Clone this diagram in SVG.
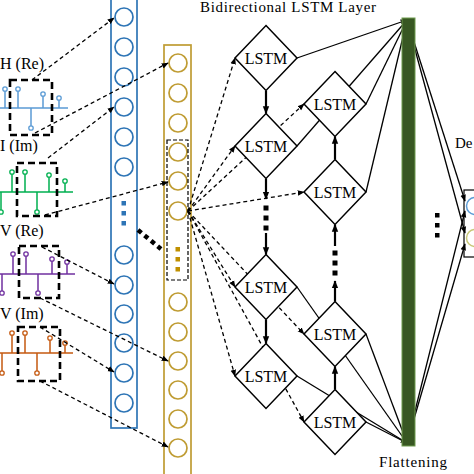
<svg xmlns="http://www.w3.org/2000/svg" width="474" height="474" viewBox="0 0 474 474">
<defs>
<marker id="ah" viewBox="0 0 10 10" refX="9" refY="5" markerWidth="7" markerHeight="7" markerUnits="userSpaceOnUse" orient="auto"><path d="M0,1 L10,5 L0,9 z" fill="#000"/></marker>
<marker id="ahb" viewBox="0 0 10 10" refX="9" refY="5" markerWidth="8" markerHeight="8" markerUnits="userSpaceOnUse" orient="auto"><path d="M0,1 L10,5 L0,9 z" fill="#000"/></marker>
</defs>
<style>
.dash{fill:none;stroke:#000;stroke-width:1.3;stroke-dasharray:4 3}
.sol{fill:none;stroke:#000;stroke-width:1.3}
.thick{fill:none;stroke:#000;stroke-width:2.2}
.dia{fill:#fff;stroke:#000;stroke-width:1.5}
.lbl{font-family:"Liberation Serif","DejaVu Serif",serif;font-size:16px;fill:#000}
.dl{font-family:"Liberation Serif","DejaVu Serif",serif;font-size:16px;fill:#000;text-anchor:middle}
.box{fill:none;stroke:#000;stroke-width:2.6;stroke-dasharray:7 4}
.bc{fill:none;stroke:#2e75b6;stroke-width:1.7}
.gc{fill:none;stroke:#bf9c33;stroke-width:1.7}
.sq{stroke:none}
</style>

<!-- signals -->
<g id="sig-h-re">
<text class="lbl" x="0" y="69">H (Re)</text>
<path d="M0,108 H68 M5,108 V89 M18,108 V89 M43,108 V94 M59,108 V98 M31,108 V128" fill="none" stroke="#5b9bd5" stroke-width="1.5"/>
<g fill="#fff" stroke="#5b9bd5" stroke-width="1.3"><circle cx="5" cy="89" r="2.2"/><circle cx="18" cy="89" r="2.2"/><circle cx="43" cy="94" r="2.2"/><circle cx="59" cy="98" r="2.2"/><circle cx="31" cy="128" r="2.2"/></g>
<rect class="box" x="10" y="80" width="42" height="55"/>
</g>
<g id="sig-i-im">
<text class="lbl" x="0" y="151">I (Im)</text>
<path d="M0,192 H73 M12,192 V172 M25,192 V172 M49,192 V175 M65,192 V181 M1,192 V212 M37,192 V212" fill="none" stroke="#00b050" stroke-width="1.5"/>
<g fill="#fff" stroke="#00b050" stroke-width="1.3"><circle cx="12" cy="172" r="2.2"/><circle cx="25" cy="172" r="2.2"/><circle cx="49" cy="175" r="2.2"/><circle cx="65" cy="181" r="2.2"/><circle cx="1" cy="212" r="2.2"/><circle cx="37" cy="212" r="2.2"/></g>
<rect class="box" x="17" y="163" width="40" height="53"/>
</g>
<g id="sig-v-re">
<text class="lbl" x="0" y="236">V (Re)</text>
<path d="M0,274 H75 M13,274 V254 M26,274 V254 M52,274 V259 M67,274 V262 M2,274 V293 M38,274 V293" fill="none" stroke="#7030a0" stroke-width="1.5"/>
<g fill="#fff" stroke="#7030a0" stroke-width="1.3"><circle cx="13" cy="254" r="2.2"/><circle cx="26" cy="254" r="2.2"/><circle cx="52" cy="259" r="2.2"/><circle cx="67" cy="262" r="2.2"/><circle cx="2" cy="293" r="2.2"/><circle cx="38" cy="293" r="2.2"/></g>
<rect class="box" x="19" y="246" width="40" height="52"/>
</g>
<g id="sig-v-im">
<text class="lbl" x="0" y="319">V (Im)</text>
<path d="M0,353 H73 M12,353 V333 M25,353 V333 M50,353 V338 M65,353 V343 M2,353 V373 M37,353 V373" fill="none" stroke="#c55a11" stroke-width="1.5"/>
<g fill="#fff" stroke="#c55a11" stroke-width="1.3"><circle cx="12" cy="333" r="2.2"/><circle cx="25" cy="333" r="2.2"/><circle cx="50" cy="338" r="2.2"/><circle cx="65" cy="343" r="2.2"/><circle cx="2" cy="373" r="2.2"/><circle cx="37" cy="373" r="2.2"/></g>
<rect class="box" x="18" y="327" width="42" height="54"/>
</g>

<!-- input column (blue) -->
<g id="input-column">
<rect class="bc" x="111" y="-5" width="26" height="433" stroke-width="2"/>
<circle class="bc" cx="124" cy="17" r="9"/><circle class="bc" cx="124" cy="47" r="9"/><circle class="bc" cx="124" cy="77" r="9"/><circle class="bc" cx="124" cy="107" r="9"/><circle class="bc" cx="124" cy="137" r="9"/><circle class="bc" cx="124" cy="167" r="9"/>
<g fill="#2e75b6"><rect class="sq" x="121.5" y="201" width="4.5" height="4.5"/><rect class="sq" x="121.5" y="211" width="4.5" height="4.5"/><rect class="sq" x="121.5" y="221" width="4.5" height="4.5"/></g>
<circle class="bc" cx="124" cy="255" r="9"/><circle class="bc" cx="124" cy="285" r="9"/><circle class="bc" cx="124" cy="314" r="9"/><circle class="bc" cx="124" cy="343" r="9"/><circle class="bc" cx="124" cy="373" r="9"/><circle class="bc" cx="124" cy="403" r="9"/>
</g>

<!-- second column (gold) -->
<g id="embed-column">
<rect class="gc" x="164" y="45" width="27" height="440" stroke-width="2"/>
<circle class="gc" cx="178" cy="63" r="9"/><circle class="gc" cx="178" cy="93" r="9"/><circle class="gc" cx="178" cy="123" r="9"/><circle class="gc" cx="178" cy="152" r="9"/><circle class="gc" cx="178" cy="181" r="9"/><circle class="gc" cx="178" cy="211" r="9"/>
<g fill="#bf9000"><rect class="sq" x="175.5" y="247" width="4.5" height="4.5"/><rect class="sq" x="175.5" y="257" width="4.5" height="4.5"/><rect class="sq" x="175.5" y="267" width="4.5" height="4.5"/></g>
<circle class="gc" cx="178" cy="302" r="9"/><circle class="gc" cx="178" cy="332" r="9"/><circle class="gc" cx="178" cy="361" r="9"/><circle class="gc" cx="178" cy="390" r="9"/><circle class="gc" cx="178" cy="419" r="9"/><circle class="gc" cx="178" cy="448" r="9"/>
<rect x="167" y="140" width="21" height="140" fill="none" stroke="#000" stroke-width="1.2" stroke-dasharray="4 2"/>
</g>

<!-- connectors -->
<g id="connectors">
<line class="dash" x1="32" y1="80" x2="114" y2="18" marker-end="url(#ah)"/>
<line class="dash" x1="35" y1="133" x2="168" y2="63" marker-end="url(#ah)"/>
<line class="dash" x1="48" y1="158" x2="114" y2="107" marker-end="url(#ah)"/>
<line class="dash" x1="45" y1="215" x2="168" y2="182" marker-end="url(#ah)"/>
<line class="dash" x1="42" y1="247" x2="114" y2="284" marker-end="url(#ah)"/>
<line class="dash" x1="40" y1="298" x2="168" y2="361" marker-end="url(#ah)"/>
<line class="dash" x1="40" y1="327" x2="114" y2="372" marker-end="url(#ah)"/>
<line class="dash" x1="40" y1="381" x2="168" y2="447" marker-end="url(#ah)"/>
<line x1="138" y1="230" x2="161" y2="249" stroke="#000" stroke-width="4.5" stroke-dasharray="4.5 4"/>
<line class="dash" x1="188" y1="211" x2="235" y2="58" marker-end="url(#ah)"/>
<line class="dash" x1="188" y1="211" x2="235" y2="146" marker-end="url(#ah)"/>
<line class="dash" x1="188" y1="211" x2="304" y2="104" marker-end="url(#ah)"/>
<line class="dash" x1="188" y1="211" x2="304" y2="192" marker-end="url(#ah)"/>
<line class="dash" x1="188" y1="211" x2="235" y2="287" marker-end="url(#ah)"/>
<line class="dash" x1="188" y1="211" x2="235" y2="376" marker-end="url(#ah)"/>
<line class="dash" x1="188" y1="211" x2="304" y2="334" marker-end="url(#ah)"/>
<line class="dash" x1="188" y1="211" x2="304" y2="422" marker-end="url(#ah)"/>
<line class="sol" x1="297" y1="58" x2="407" y2="20" marker-end="url(#ah)"/>
<line class="sol" x1="297" y1="146" x2="407" y2="20" marker-end="url(#ah)"/>
<line class="sol" x1="366" y1="104" x2="407" y2="20" marker-end="url(#ah)"/>
<line class="sol" x1="366" y1="192" x2="407" y2="20" marker-end="url(#ah)"/>
<line class="sol" x1="297" y1="287" x2="407" y2="443" marker-end="url(#ah)"/>
<line class="sol" x1="297" y1="376" x2="407" y2="443" marker-end="url(#ah)"/>
<line class="sol" x1="366" y1="334" x2="407" y2="443" marker-end="url(#ah)"/>
<line class="sol" x1="366" y1="422" x2="407" y2="443" marker-end="url(#ah)"/>
<line class="thick" x1="266" y1="90.5" x2="266" y2="113.5" marker-end="url(#ahb)"/>
<line class="thick" x1="266" y1="178.5" x2="266" y2="199" marker-end="url(#ahb)"/>
<g fill="#000"><rect x="263.5" y="205.5" width="5" height="5"/><rect x="263.5" y="215.5" width="5" height="5"/><rect x="263.5" y="225.5" width="5" height="5"/></g>
<line class="thick" x1="266" y1="233" x2="266" y2="254.5" marker-end="url(#ahb)"/>
<line class="thick" x1="266" y1="319.5" x2="266" y2="343.5" marker-end="url(#ahb)"/>
<line class="thick" x1="335" y1="389.5" x2="335" y2="366.5" marker-end="url(#ahb)"/>
<line class="thick" x1="335" y1="301.5" x2="335" y2="281" marker-end="url(#ahb)"/>
<g fill="#000"><rect x="332.5" y="250.5" width="5" height="5"/><rect x="332.5" y="260.5" width="5" height="5"/><rect x="332.5" y="270.5" width="5" height="5"/></g>
<line class="thick" x1="335" y1="246" x2="335" y2="224.5" marker-end="url(#ahb)"/>
<line class="thick" x1="335" y1="159.5" x2="335" y2="136.5" marker-end="url(#ahb)"/>
<line class="sol" x1="407" y1="20" x2="465" y2="201" marker-end="url(#ah)"/>
<line class="sol" x1="407" y1="20" x2="465" y2="233" marker-end="url(#ah)"/>
<line class="sol" x1="407" y1="443" x2="465" y2="211" marker-end="url(#ah)"/>
<line class="sol" x1="407" y1="443" x2="465" y2="244" marker-end="url(#ah)"/>
</g>

<!-- LSTM nodes -->
<g id="lstm-f1"><polygon class="dia" points="266,25.5 297,58 266,90.5 235,58"/><text class="dl" x="266" y="63.5">LSTM</text></g>
<g id="lstm-f2"><polygon class="dia" points="266,113.5 297,146 266,178.5 235,146"/><text class="dl" x="266" y="151.5">LSTM</text></g>
<g id="lstm-f3"><polygon class="dia" points="266,254.5 297,287 266,319.5 235,287"/><text class="dl" x="266" y="292.5">LSTM</text></g>
<g id="lstm-f4"><polygon class="dia" points="266,343.5 297,376 266,408.5 235,376"/><text class="dl" x="266" y="381.5">LSTM</text></g>
<g id="lstm-b1"><polygon class="dia" points="335,71.5 366,104 335,136.5 304,104"/><text class="dl" x="335" y="109.5">LSTM</text></g>
<g id="lstm-b2"><polygon class="dia" points="335,159.5 366,192 335,224.5 304,192"/><text class="dl" x="335" y="197.5">LSTM</text></g>
<g id="lstm-b3"><polygon class="dia" points="335,301.5 366,334 335,366.5 304,334"/><text class="dl" x="335" y="339.5">LSTM</text></g>
<g id="lstm-b4"><polygon class="dia" points="335,389.5 366,422 335,454.5 304,422"/><text class="dl" x="335" y="427.5">LSTM</text></g>

<text class="lbl" x="200" y="12" textLength="176" lengthAdjust="spacing" style="font-size:15px">Bidirectional LSTM Layer</text>

<!-- flatten -->
<g id="flatten">
<rect x="402" y="18" width="13" height="428" fill="#385723" stroke="#6f9c4f" stroke-width="1"/>
<text class="lbl" x="379" y="467" textLength="68" lengthAdjust="spacing" style="font-size:15px">Flattening</text>
</g>
<g fill="#000"><rect x="435" y="213" width="4.5" height="4.5"/><rect x="435" y="223" width="4.5" height="4.5"/><rect x="435" y="233" width="4.5" height="4.5"/></g>

<!-- dense -->
<g id="dense">
<text class="lbl" x="455" y="148" style="font-size:15px">De</text>
<rect x="464" y="190" width="20" height="67" fill="none" stroke="#000" stroke-width="1.2"/>
<circle cx="475" cy="206" r="8.5" fill="none" stroke="#5b9bd5" stroke-width="1.5"/>
<circle cx="475" cy="238" r="8.5" fill="none" stroke="#c8c878" stroke-width="1.5"/>
</g>
</svg>
